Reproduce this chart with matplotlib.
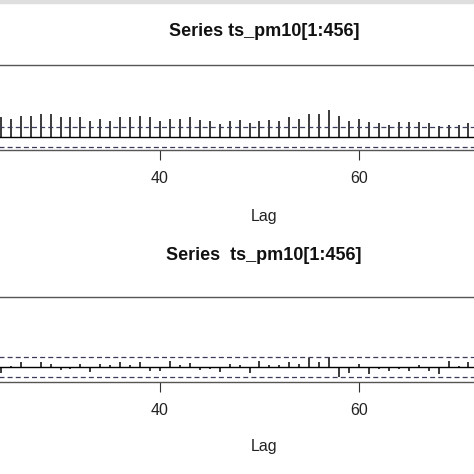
import matplotlib
matplotlib.use("Agg")
import matplotlib.pyplot as plt
import matplotlib.patches as mpatches
import numpy as np

plt.rcParams["font.family"] = ["Liberation Sans", "DejaVu Sans"]

# lags visible in the cropped picture
lags = list(range(24, 72))

# ACF values, lags 24..71
acf_vals = [0.175, 0.161, 0.189, 0.189, 0.209, 0.209, 0.181, 0.175, 0.181, 0.145,
            0.159, 0.145, 0.175, 0.175, 0.189, 0.175, 0.145, 0.161, 0.161, 0.181,
            0.148, 0.145, 0.120, 0.145, 0.153, 0.125, 0.145, 0.153, 0.147, 0.175,
            0.161, 0.209, 0.209, 0.242, 0.186, 0.147, 0.159, 0.131, 0.125, 0.111,
            0.131, 0.131, 0.131, 0.125, 0.097, 0.111, 0.111, 0.125]

# partial ACF values, lags 24..71
pacf_vals = [-0.057, 0.009, 0.043, 0.003, 0.043, 0.023, -0.029, -0.014, 0.029, -0.043,
             0.023, 0.014, 0.043, 0.014, 0.043, -0.034, -0.034, 0.057, 0.020, 0.034,
             -0.029, -0.014, -0.043, 0.029, 0.014, -0.052, 0.057, 0.020, 0.020, 0.043,
             0.023, 0.080, 0.043, 0.092, -0.086, -0.052, 0.029, -0.063, -0.014, -0.034,
             -0.014, -0.034, 0.020, -0.034, -0.063, 0.052, 0.005, 0.043]

n_obs = 456
clim = 1.96 / np.sqrt(n_obs)
titles = ["Series ts_pm10[1:456]", "Series  ts_pm10[1:456]"]

W = 474
fig = plt.figure(figsize=(4.74, 4.74), dpi=100)
fig.patch.set_facecolor("white")

# thin grey band at the very top of the crop
fig.patches.append(mpatches.Rectangle((0, 1 - 3 / W), 1, 3 / W, transform=fig.transFigure,
                                      color="#dedede", zorder=0))

px_per_lag = 9.95
x_lo, x_hi = 10, 80
ax_left = (160 - (40 - x_lo) * px_per_lag) / W
ax_width = (x_hi - x_lo) * px_per_lag / W


def panel(vals, title, top_px, bot_px, zero_px, title_px, lag_px):
    u = 112.0
    ax = fig.add_axes([ax_left, 1 - bot_px / W, ax_width, (bot_px - top_px) / W])
    ax.set_xlim(x_lo, x_hi)
    ax.set_ylim(-(bot_px - zero_px) / u, (zero_px - top_px) / u)
    ax.vlines(lags, 0, vals, color="#1a1a1a", linewidth=1.2)
    ax.axhline(0, color="black", linewidth=1.0)
    ax.axhline(clim, color="#3c3c5c", linestyle=(0, (4, 2.5)), linewidth=0.9)
    ax.axhline(-clim, color="#3c3c5c", linestyle=(0, (4, 2.5)), linewidth=0.9)
    for s in ax.spines.values():
        s.set_color("#555555")
        s.set_linewidth(1.0)
    ax.set_yticks([])
    ax.set_xticks([40, 60])
    ax.tick_params(axis="x", length=7, width=0.8, color="#333333", pad=8,
                   labelsize=11.5, labelcolor="#222222")
    fig.text(264 / W, 1 - title_px / W, title, ha="center", va="center",
             fontsize=13, fontweight="bold", color="#111111")
    fig.text(264 / W, 1 - lag_px / W, "Lag", ha="center", va="center",
             fontsize=11.5, color="#222222")
    return ax


panel(acf_vals, titles[0], 65, 150, 137, 31, 216)
panel(pacf_vals, titles[1], 297, 382, 367, 256, 447)

plt.savefig("out.png", dpi=100, facecolor="white")
